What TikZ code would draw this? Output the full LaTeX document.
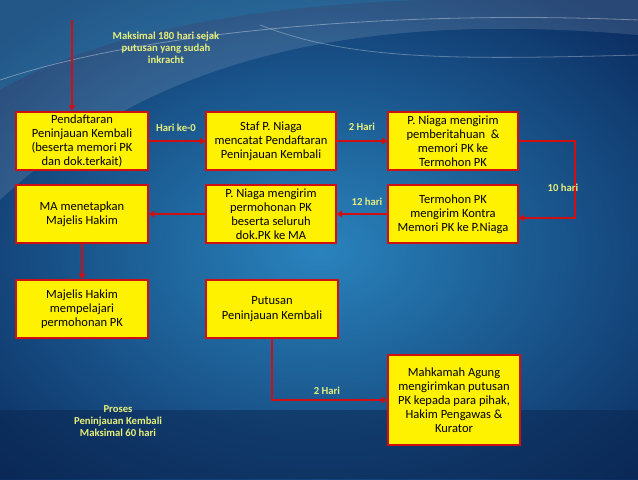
\documentclass[tikz,border=0pt]{standalone}
\usepackage{fontspec}
\setmainfont{Carlito}
\usetikzlibrary{arrows.meta}
\definecolor{bred}{HTML}{D01010}
\definecolor{lab}{HTML}{E8F07A}
\definecolor{bgA}{HTML}{0C2F63}
\definecolor{bgB}{HTML}{2A83BD}
\begin{document}
\begin{tikzpicture}[x=0.75pt,y=-0.75pt,
 box/.style={draw=bred,line width=1.6pt,fill=yellow,align=center,inner sep=0pt,font=\fontsize{9.4}{10.6}\selectfont},
 lbl/.style={text=lab,align=center,font=\fontsize{8}{9}\selectfont\bfseries},
 con/.style={draw=bred,line width=1.4pt,-{Triangle[length=4pt,width=5pt]}}]
\useasboundingbox (0,0) rectangle (638,479);
\shade[inner color=bgB,outer color=bgA] (-120,-60) rectangle (758,560);
\fill[bgA!80!black,opacity=0.5] (0,410) rectangle (638,479);
\fill[white,opacity=0.12] (0,200) .. controls (150,60) and (350,10) .. (638,35) -- (638,0) -- (0,0) -- cycle;
\fill[cyan,opacity=0.15] (0,90) .. controls (120,20) and (300,5) .. (420,0) -- (0,0) -- cycle;
\draw[white,opacity=0.35,line width=0.6pt] (0,80) .. controls (150,30) and (400,10) .. (638,20);
\draw[white,opacity=0.3,line width=0.6pt] (260,25) .. controls (350,60) and (450,60) .. (638,55);
\node[box,minimum width=99pt,minimum height=44pt] (b1) at (82,141) {Pendaftaran\\Peninjauan Kembali\\(beserta memori PK\\dan dok.terkait)};
\node[box,minimum width=97pt,minimum height=44pt] (b2) at (271,141) {Staf P. Niaga\\mencatat Pendaftaran\\Peninjauan Kembali};
\node[box,minimum width=97pt,minimum height=44pt] (b3) at (453,141) {P. Niaga mengirim\\pemberitahuan \ \&\\memori PK ke\\Termohon PK};
\node[box,minimum width=99pt,minimum height=43pt] (b4) at (82,214) {MA menetapkan\\Majelis Hakim};
\node[box,minimum width=97pt,minimum height=43pt] (b5) at (271,214) {P. Niaga mengirim\\permohonan PK\\beserta seluruh\\dok.PK ke MA};
\node[box,minimum width=97pt,minimum height=43pt] (b6) at (453,214) {Termohon PK\\mengirim Kontra\\Memori PK ke P.Niaga};
\node[box,minimum width=99pt,minimum height=43.5pt] (b7) at (82,309) {Majelis Hakim\\mempelajari\\permohonan PK};
\node[box,minimum width=99pt,minimum height=43.5pt] (b8) at (272,309) {Putusan\\Peninjauan Kembali};
\node[box,minimum width=99pt,minimum height=67pt] (b9) at (454,400) {Mahkamah Agung\\mengirimkan putusan\\PK kepada para pihak,\\Hakim Pengawas \&\\Kurator};
\coordinate (top) at (72,20);
\coordinate (r1) at (575,141);
\coordinate (r2) at (575,218);
\coordinate (d1) at (272,400);
\draw[con] (top) -- (top|-b1.north);
\draw[con] (b1) -- (b2);
\draw[con] (b2) -- (b3);
\draw[con] (b3.east) -- (r1) -- (r2) -- (b6.east|-r2);
\draw[con] (b6) -- (b5);
\draw[con] (b5) -- (b4);
\draw[con] (b4) -- (b7);
\draw[con] (b8) -- (d1) -- (b9.west|-d1);
\node[lbl] (l0) at (166,48) {Maksimal 180 hari sejak\\putusan yang sudah\\inkracht};
\node[lbl] (l1) at (176,128) {Hari ke-0};
\node[lbl] (l2) at (362,127) {2 Hari};
\node[lbl] (l3) at (563,188) {10 hari};
\node[lbl] (l4) at (367,202) {12 hari};
\node[lbl] (l5) at (327,391) {2 Hari};
\node[lbl] (l6) at (118,421) {Proses\\Peninjauan Kembali\\Maksimal 60 hari};
\end{tikzpicture}
\end{document}
